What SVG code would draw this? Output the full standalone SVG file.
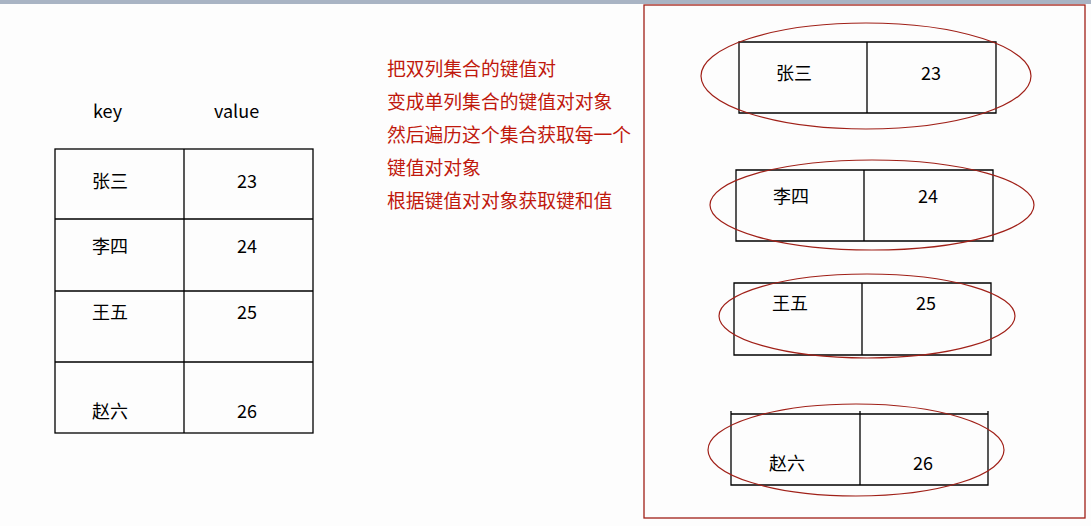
<svg xmlns="http://www.w3.org/2000/svg" width="1091" height="526" viewBox="0 0 1091 526">
<style>
.t{font-family:"Noto Sans CJK SC","Noto Sans",sans-serif;font-size:18px;fill:#000}
.r{font-family:"Noto Sans CJK SC",sans-serif;font-size:18.8px;fill:#c0180c}
.c{fill:none;stroke:#000;stroke-width:1.3}
.e{fill:none;stroke:#a02018;stroke-width:1.2}
</style>
<rect width="1091" height="526" fill="#fdfdfd"/>
<rect x="0" y="0" width="1091" height="4" fill="#a9b4c4"/>
<g id="headers"><text class="t" x="93" y="118">key</text><text class="t" x="214" y="118">value</text></g>
<g id="table">
<rect class="c" x="55" y="149" width="258" height="284"/>
<path class="c" d="M184 149V433M55 219H313M55 291H313M55 362H313"/>
<text class="t" x="92" y="188">张三</text><text class="t" x="237" y="188">23</text>
<text class="t" x="92" y="253">李四</text><text class="t" x="237" y="253">24</text>
<text class="t" x="92" y="319">王五</text><text class="t" x="237" y="319">25</text>
<text class="t" x="92" y="418">赵六</text><text class="t" x="237" y="418">26</text>
</g>
<g id="note">
<text class="r" x="387" y="76">把双列集合的键值对</text>
<text class="r" x="387" y="109">变成单列集合的键值对对象</text>
<text class="r" x="387" y="142">然后遍历这个集合获取每一个</text>
<text class="r" x="387" y="175">键值对对象</text>
<text class="r" x="387" y="208">根据键值对对象获取键和值</text>
</g>
<rect id="frame" x="644" y="5" width="441" height="513" fill="none" stroke="#a02018" stroke-width="1.3"/>
<g id="e1"><path class="c" d="M739 42H996V113H739ZM867 42V113"/><text class="t" x="776" y="80">张三</text><text class="t" x="921" y="80">23</text><ellipse class="e" cx="866" cy="76" rx="165" ry="53"/></g>
<g id="e2"><path class="c" d="M736 170H993V241H736ZM864 170V241"/><text class="t" x="773" y="203">李四</text><text class="t" x="918" y="203">24</text><ellipse class="e" cx="872" cy="205" rx="162" ry="45"/></g>
<g id="e3"><path class="c" d="M734 283H991V355H734ZM862 283V355"/><text class="t" x="772" y="310">王五</text><text class="t" x="916" y="310">25</text><ellipse class="e" cx="867" cy="316" rx="148" ry="42"/></g>
<g id="e4"><path class="c" d="M731 414H988V485H731ZM860 411V485M731 411V414M988 411V414"/><text class="t" x="769" y="470">赵六</text><text class="t" x="913" y="470">26</text><ellipse class="e" cx="856" cy="450" rx="148" ry="46"/></g>
</svg>
